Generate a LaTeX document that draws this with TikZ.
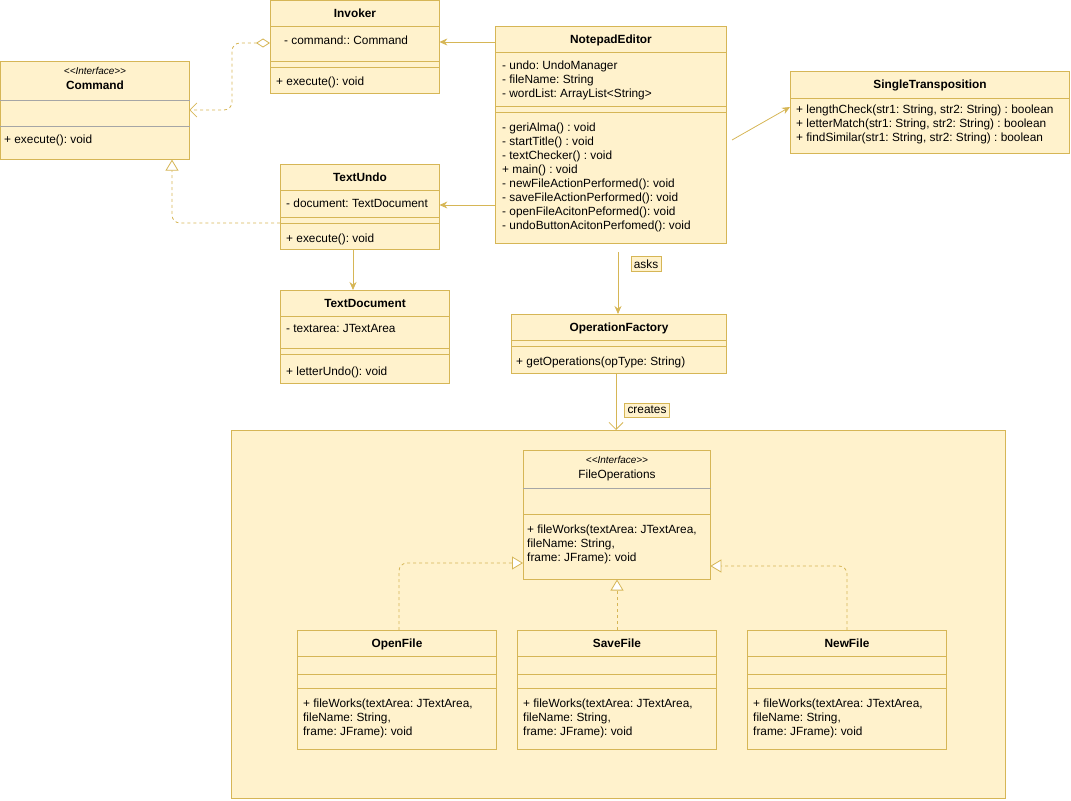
\documentclass[tikz,border=0pt]{standalone}
\usepackage{fontspec}
\setmainfont{Liberation Sans}
\usetikzlibrary{arrows.meta}
\definecolor{fy}{HTML}{FFF2CC}
\definecolor{sy}{HTML}{D6B656}
\frenchspacing
\begin{document}
\begin{tikzpicture}[x=1bp,y=-1bp,
 box/.style={draw=sy,fill=fy,line width=0.8bp,anchor=north west,inner sep=0,outer sep=0},
 sep/.style={draw=sy,line width=0.8bp},
 gsep/.style={draw=gray!70,line width=0.8bp},
 tx/.style={anchor=base west,yshift=-4.4bp,inner sep=0,font=\fontsize{11.9}{13}\selectfont},
 ti/.style={anchor=base,yshift=-4.4bp,inner sep=0,font=\fontsize{11.9}{13}\selectfont\bfseries},
 st/.style={anchor=base,yshift=-3.8bp,inner sep=0,font=\fontsize{10}{12}\selectfont\itshape},
 con/.style={draw=sy,line width=0.8bp},
 arr/.style={con,-{Stealth[length=8bp,width=7bp]}},
 real/.style={con,dashed,-{Triangle[open,length=11bp,width=13bp,fill=white]}},
 lbl/.style={draw=sy,fill=fy,inner sep=3bp,font=\fontsize{11.9}{13}\selectfont}]
\useasboundingbox (0,0) rectangle (1071,801);
\newcommand\bx[5]{\node[box,minimum width=#4-#2,minimum height=#5-#3] (#1) at (#2,#3) {};}
\newcommand\hl[3]{\draw[sep] (#1,#3) -- (#2,#3);}
\newcommand\intf{{<}\kern0pt{<}Interface{>}\kern0pt{>}}
% big frame
\bx{frame}{231}{430}{1008}{800}
% Invoker
\bx{inv}{270}{0}{440}{94}
\hl{270}{440}{26}\hl{270}{440}{61}\hl{270}{440}{67}
\node[ti] (invt) at (355,13) {Invoker};
\node[tx] (inva) at (284,40) {- command:: Command};
\node[tx] (invm) at (276,81) {+ execute(): void};
% Command
\bx{cmd}{0}{61}{190}{160}
\draw[gsep] (0,100)--(190,100); \draw[gsep] (0,126)--(190,126);
\node[st] (cmds) at (95,71) {\intf};
\node[ti] (cmdt) at (95,85) {Command};
\node[tx] (cmdm) at (4,139) {+ execute(): void};
% NotepadEditor
\bx{ne}{495}{26}{727}{244}
\hl{495}{727}{52}\hl{495}{727}{106}\hl{495}{727}{112}
\node[ti] (net) at (611,39) {NotepadEditor};
\node[tx] (nea1) at (502,65) {- undo: UndoManager};
\node[tx] (nea2) at (502,79) {- fileName: String};
\node[tx] (nea3) at (502,93) {- wordList: ArrayList<String>};
\foreach \t [count=\i] in {- geriAlma() : void,- startTitle() : void,- textChecker() : void,+ main() : void,- newFileActionPerformed(): void,- saveFileActionPerformed(): void,- openFileAcitonPeformed(): void,- undoButtonAcitonPerfomed(): void}
  \node[tx] (nem\i) at (502,113+14*\i) {\t};
% SingleTransposition
\bx{st}{790}{71}{1070}{154}
\hl{790}{1070}{98}
\node[ti] (stt) at (930,84) {SingleTransposition};
\node[tx] (stm1) at (796,109) {+ lengthCheck(str1: String, str2: String) : boolean};
\node[tx] (stm2) at (796,123) {+ letterMatch(str1: String, str2: String) : boolean};
\node[tx] (stm3) at (796,137) {+ findSimilar(str1: String, str2: String) : boolean};
% TextUndo
\bx{tu}{280}{164}{440}{250}
\hl{280}{440}{190}\hl{280}{440}{217}\hl{280}{440}{223}
\node[ti] (tut) at (360,177) {TextUndo};
\node[tx] (tua) at (286,203) {- document: TextDocument};
\node[tx] (tum) at (286,238) {+ execute(): void};
% TextDocument
\bx{td}{280}{290}{450}{384}
\hl{280}{450}{316}\hl{280}{450}{348}\hl{280}{450}{354}
\node[ti] (tdt) at (365,303) {TextDocument};
\node[tx] (tda) at (286,328) {- textarea: JTextArea};
\node[tx] (tdm) at (286,371) {+ letterUndo(): void};
% OperationFactory
\bx{of}{511}{314}{727}{374}
\hl{511}{727}{340}\hl{511}{727}{346}
\node[ti] (oft) at (619,327) {OperationFactory};
\node[tx] (ofm) at (516,361) {+ getOperations(opType: String)};
% FileOperations
\bx{fo}{523}{450}{711}{580}
\draw[gsep] (523,488)--(711,488); \hl{523}{711}{514}
\node[st] (fos) at (617,460) {\intf};
\node[tx,anchor=base] (fot) at (617,474) {FileOperations};
\node[tx] (fom1) at (527,529) {+ fileWorks(textArea: JTextArea,};
\node[tx] (fom2) at (527,543) {fileName: String,};
\node[tx] (fom3) at (527,557) {frame: JFrame): void};
% three implementors
\foreach \n/\x/\t in {opf/297/OpenFile,svf/517/SaveFile,nwf/747/NewFile}{
  \bx{\n}{\x}{630}{\x+200}{750}
  \hl{\x}{\x+200}{656}\hl{\x}{\x+200}{674}\hl{\x}{\x+200}{688}
  \node[ti] (\n t) at (\x+100,643) {\t};
  \node[tx] (\n m1) at (\x+6,703) {+ fileWorks(textArea: JTextArea,};
  \node[tx] (\n m2) at (\x+6,717) {fileName: String,};
  \node[tx] (\n m3) at (\x+6,731) {frame: JFrame): void};
}
% connectors
\draw[con,dashed,{Diamond[open,length=14bp,width=9bp,fill=white]}-{Straight Barb[length=7bp,width=14bp]}]
  (inv.west|-0,43) -- (240,43) to[out=180,in=90] (232,51) -- (232,102) to[out=-90,in=0] (224,110) -- (cmd.east|-0,110);
\draw[arr] (ne.west|-0,42) -- (inv.east|-0,42);
\draw[arr] (ne.west|-0,205) -- (tu.east|-0,205);
\draw[real] (tu.west|-0,223) -- (180,223) to[out=180,in=-90] (172,215) -- (cmd.south-|172,0);
\draw[arr] (tu.south-|353,0) -- (td.north-|353,0);
\draw[arr] (732,140) -- (st.west|-0,107);
\draw[arr] (618,252) -- (of.north-|618,0);
\node[lbl] (asks) at (646,264) {asks};
\draw[con,-{Straight Barb[length=7bp,width=14bp]}] (of.south-|616,0) -- (frame.north-|616,0);
\node[lbl] (cre) at (647,410) {creates};
\draw[real] (opf.north-|399,0) -- (399,571) to[out=90,in=180] (407,563) -- (fo.west|-0,563);
\draw[real] (svf.north-|617,0) -- (fo.south-|617,0);
\draw[real] (nwf.north-|847,0) -- (847,574) to[out=90,in=0] (839,566) -- (fo.east|-0,566);
\end{tikzpicture}
\end{document}
